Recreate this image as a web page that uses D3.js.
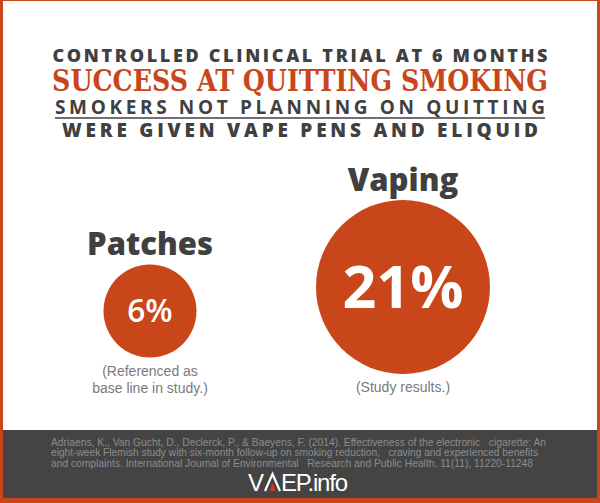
<!DOCTYPE html>
<html><head><meta charset="utf-8">
<script src="https://cdn.jsdelivr.net/npm/d3@7"></script>
<style>html,body{margin:0;padding:0;background:#fff;}svg{display:block;}</style>
</head><body>
<script>
// ---- data ----
const categories = ["Patches", "Vaping"];
const values = [6, 21];
const valueLabels = ["6%", "21%"];
const captions = [["(Referenced as", "base line in study.)"], ["(Study results.)"]];
const titleLines = ["CONTROLLED CLINICAL TRIAL AT 6 MONTHS", "SUCCESS AT QUITTING SMOKING",
  "SMOKERS NOT PLANNING ON QUITTING", "WERE GIVEN VAPE PENS AND ELIQUID"];
const citation = [
  "Adriaens, K., Van Gucht, D., Declerck, P., & Baeyens, F. (2014). Effectiveness of the electronic   cigarette: An",
  "eight-week Flemish study with six-month follow-up on smoking reduction,   craving and experienced benefits",
  "and complaints. International Journal of Environmental   Research and Public Health. 11(11), 11220-11248"];
const citationWidths = [495, 487, 482];

const W = 600, H = 503;
const ORANGE = "#c8461a", DARK = "#404040", GREY = "#7a7a7a";
const svg = d3.select("body").append("svg").attr("width", W).attr("height", H);

// frame
svg.append("rect").attr("x", 0).attr("y", 0).attr("width", W).attr("height", H).attr("fill", ORANGE);
svg.append("rect").attr("x", 3).attr("y", 1).attr("width", W - 6).attr("height", H - 6).attr("fill", "#fff");
svg.append("rect").attr("x", 3).attr("y", 430).attr("width", W - 6).attr("height", 68).attr("fill", "#444444");

// titles
const tl = [
  {y: 62, size: 18, fam: "'Open Sans', sans-serif", w: 800, fill: DARK, len: 495},
  {y: 91, size: 30, fam: "'DejaVu Serif', serif", w: 700, fill: ORANGE, len: 496, squeeze: true},
  {y: 114, size: 19, fam: "'Open Sans', sans-serif", w: 700, fill: DARK, len: 490, underline: true},
  {y: 137, size: 19, fam: "'Open Sans', sans-serif", w: 800, fill: DARK, len: 476}
];
tl.forEach((t, i) => {
  if (t.squeeze) {
    const gg = svg.append("g");
    const el = gg.append("text").attr("x", 0).attr("y", 0).attr("text-anchor", "middle")
      .attr("font-family", t.fam).attr("font-weight", t.w).attr("font-size", t.size)
      .attr("fill", t.fill).text(titleLines[i]);
    const nat = el.node().getComputedTextLength();
    gg.attr("transform", `translate(${W / 2},${t.y}) scale(${t.len / nat},1)`);
    return;
  }
  svg.append("text").attr("x", W / 2).attr("y", t.y).attr("text-anchor", "middle")
    .attr("font-family", t.fam).attr("font-weight", t.w).attr("font-size", t.size)
    .attr("fill", t.fill).attr("textLength", t.len).attr("lengthAdjust", "spacing")
    .text(titleLines[i]);
  if (t.underline) {
    svg.append("line").attr("x1", W / 2 - t.len / 2).attr("x2", W / 2 + t.len / 2)
      .attr("y1", t.y + 4).attr("y2", t.y + 4).attr("stroke", DARK).attr("stroke-width", 1.5);
  }
});

// scales
const x = d3.scalePoint().domain(categories).range([150, 403]);
const r = d3.scaleSqrt().domain([0, d3.max(values)]).range([0, 87]);
const cy = d3.scaleLinear().domain([r(6), r(21)]).range([311, 287]);

const g = svg.selectAll("g.bub").data(categories.map((c, i) => ({c, v: values[i], lab: valueLabels[i], cap: captions[i]})))
  .enter().append("g").attr("class", "bub");

g.append("circle").attr("cx", d => x(d.c)).attr("cy", d => cy(r(d.v))).attr("r", d => r(d.v)).attr("fill", ORANGE);

g.append("text").attr("x", d => x(d.c)).attr("y", d => cy(r(d.v)) - r(d.v) - 9)
  .attr("text-anchor", "middle").attr("font-family", "'Open Sans', sans-serif").attr("font-weight", 800)
  .attr("font-size", 31).attr("fill", DARK).text(d => d.c);

g.append("text").attr("x", d => x(d.c)).attr("y", d => cy(r(d.v)) + r(d.v) * 0.24)
  .attr("text-anchor", "middle").attr("font-family", "'Open Sans', sans-serif").attr("font-weight", d => d.v > 10 ? 700 : 600)
  .attr("font-size", d => r(d.v) * 0.68).attr("fill", "#fff").text(d => d.lab);

g.each(function(d) {
  const base = cy(r(d.v)) + r(d.v) + 18;
  d3.select(this).selectAll("text.cap").data(d.cap).enter().append("text").attr("class", "cap")
    .attr("x", x(d.c)).attr("y", (s, j) => base + j * 17).attr("text-anchor", "middle")
    .attr("font-family", "'Liberation Sans', Arial, sans-serif").attr("font-size", 14)
    .attr("fill", GREY).text(s => s);
});

// citation
svg.selectAll("text.cit").data(citation).enter().append("text").attr("class", "cit")
  .attr("x", 51).attr("y", (s, i) => 445.5 + i * 10.5)
  .attr("font-family", "'Liberation Sans', Arial, sans-serif").attr("font-size", 11)
  .attr("textLength", (s, i) => citationWidths[i]).attr("lengthAdjust", "spacingAndGlyphs")
  .attr("fill", "#8c8c8c").style("white-space", "pre").text(s => s);

// logo
const logo = svg.append("g").attr("transform", "translate(248,491)");
logo.append("text").attr("x", 0).attr("y", 0).attr("font-family", "'Liberation Sans', Arial, sans-serif")
  .attr("font-size", 24).attr("fill", "#fff").text("V");
logo.append("path").attr("d", "M17,0 L24.5,-17 L32,0").attr("fill", "none").attr("stroke", "#fff").attr("stroke-width", 2.2);
logo.append("path").attr("d", "M21.5,0 L24.5,-8 L27.5,0 Z").attr("fill", "#e0301e");
logo.append("text").attr("x", 33).attr("y", 0).attr("font-family", "'Liberation Sans', Arial, sans-serif")
  .attr("font-size", 24).attr("fill", "#fff").attr("textLength", 67).text("EP.info");
</script>
</body></html>
